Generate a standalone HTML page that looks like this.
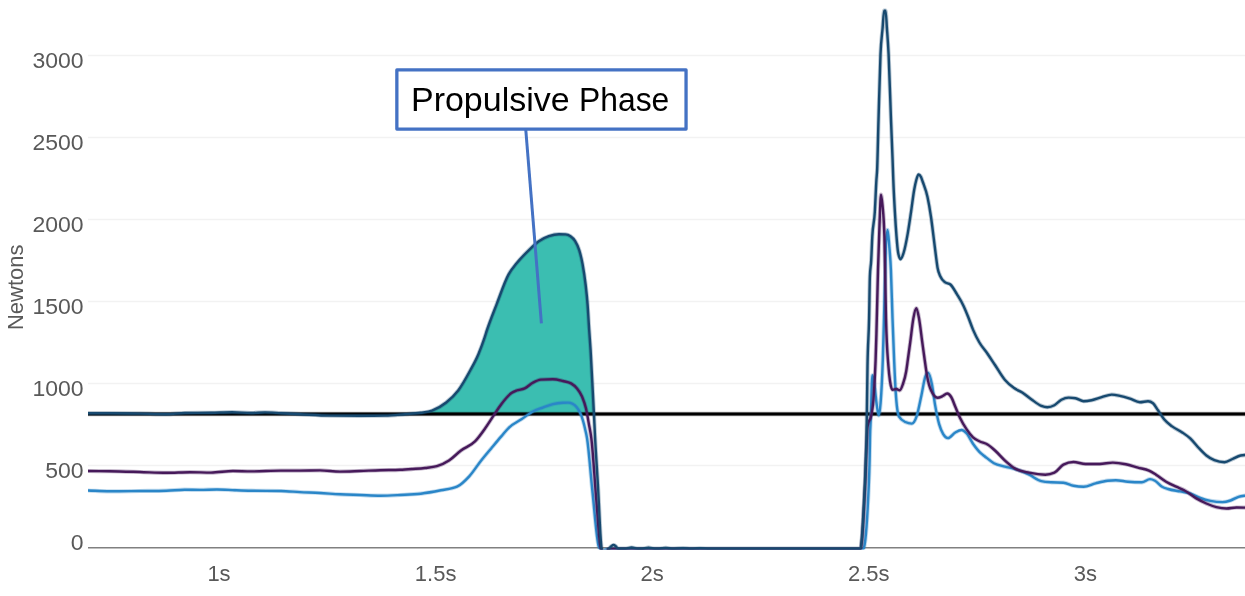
<!DOCTYPE html>
<html lang="en">
<head>
<meta charset="utf-8">
<title>Force-Time Curve: Propulsive Phase</title>
<style>
html,body{margin:0;padding:0;background:#fff;}
body{width:1245px;height:596px;overflow:hidden;}
svg{display:block;}
.ax text{font-family:"Liberation Sans",Arial,sans-serif;font-size:22px;fill:#595959;}
.ln{fill:none;stroke-width:2.4;stroke-linejoin:round;stroke-linecap:butt;}
.halo{fill:none;stroke-width:4.2;stroke-opacity:0.3;stroke-linejoin:round;}
.callout{font-family:"Liberation Sans",Arial,sans-serif;font-size:33px;fill:#000;}
</style>
</head>
<body>
<svg width="1245" height="596" viewBox="0 0 1245 596">
<rect width="1245" height="596" fill="#ffffff"/>
<g class="chart">
<g class="grid">
<line x1="88" x2="1245" y1="465.5" y2="465.5" stroke="#f2f2f2" stroke-width="1.5"/>
<line x1="88" x2="1245" y1="383.5" y2="383.5" stroke="#f2f2f2" stroke-width="1.5"/>
<line x1="88" x2="1245" y1="301.5" y2="301.5" stroke="#f2f2f2" stroke-width="1.5"/>
<line x1="88" x2="1245" y1="219.5" y2="219.5" stroke="#f2f2f2" stroke-width="1.5"/>
<line x1="88" x2="1245" y1="137.5" y2="137.5" stroke="#f2f2f2" stroke-width="1.5"/>
<line x1="88" x2="1245" y1="55.5" y2="55.5" stroke="#f2f2f2" stroke-width="1.5"/>
</g>
<line x1="88" x2="1245" y1="547.8" y2="547.8" stroke="#808080" stroke-width="1.6"/>
<g class="ax">
<text x="83.6" y="549.9" text-anchor="end" textLength="12.8" lengthAdjust="spacingAndGlyphs">0</text>
<text x="83.6" y="477.7" text-anchor="end" textLength="38.4" lengthAdjust="spacingAndGlyphs">500</text>
<text x="83.6" y="395.7" text-anchor="end" textLength="51.2" lengthAdjust="spacingAndGlyphs">1000</text>
<text x="83.6" y="313.7" text-anchor="end" textLength="51.2" lengthAdjust="spacingAndGlyphs">1500</text>
<text x="83.6" y="231.7" text-anchor="end" textLength="51.2" lengthAdjust="spacingAndGlyphs">2000</text>
<text x="83.6" y="149.7" text-anchor="end" textLength="51.2" lengthAdjust="spacingAndGlyphs">2500</text>
<text x="83.6" y="67.7" text-anchor="end" textLength="51.2" lengthAdjust="spacingAndGlyphs">3000</text>
<text x="219.0" y="581" text-anchor="middle">1s</text>
<text x="435.6" y="581" text-anchor="middle">1.5s</text>
<text x="652.2" y="581" text-anchor="middle">2s</text>
<text x="868.8" y="581" text-anchor="middle">2.5s</text>
<text x="1085.4" y="581" text-anchor="middle">3s</text>
<text transform="translate(23.3,287.3) rotate(-90)" text-anchor="middle" style="font-size:22px">Newtons</text>
</g>
<defs><clipPath id="plot"><rect x="88" y="0" width="1157" height="549.4"/></clipPath></defs>
<g clip-path="url(#plot)">
<path d="M420.8 412.8C424.53 412.07 428.27 411.95 432.0 410.6C436.73 408.89 441.47 406.30 446.2 402.5C450.20 399.29 454.20 395.83 458.2 390.5C462.23 385.12 466.27 377.80 470.3 370.3C473.00 365.28 475.70 360.65 478.4 354.2C480.40 349.43 482.40 344.07 484.4 338.1C485.27 335.51 486.13 332.62 487.0 330.0C490.17 320.44 493.33 312.82 496.5 304.6C500.53 294.13 504.57 281.78 508.6 274.4C511.27 269.52 513.93 266.67 516.6 263.3C520.63 258.21 524.67 254.25 528.7 250.3C532.07 247.00 535.43 243.55 538.8 241.2C542.13 238.87 545.47 237.37 548.8 236.2C552.17 235.02 555.53 234.20 558.9 234.2C561.10 234.20 563.30 234.27 565.5 234.4C567.17 234.50 568.83 235.02 570.5 236.2C572.00 237.26 573.50 238.36 575.0 240.8C576.43 243.14 577.87 245.48 579.3 250.3C580.40 254.00 581.50 258.20 582.6 264.3C583.60 269.85 584.60 275.78 585.6 284.5C586.27 290.32 586.93 295.74 587.6 304.6C588.13 311.69 588.67 321.94 589.2 330.0C589.67 337.05 590.13 342.50 590.6 350.2C591.13 359.00 591.67 370.26 592.2 380.4C592.77 391.18 593.33 402.13 593.9 413.0L593.9 414L420.8 414Z" fill="#33bbae" fill-opacity="0.96"/>
<line x1="88" x2="1245" y1="414" y2="414" stroke="#000" stroke-width="4.4" stroke-opacity="0.3"/>
<line x1="88" x2="1245" y1="414" y2="414" stroke="#000" stroke-width="2.8"/>
<path class="halo" stroke="#2a86c8" d="M88.0 490.5C95.33 490.77 102.67 491.30 110.0 491.3C120.00 491.30 130.00 491.11 140.0 491.0C148.83 490.91 157.67 490.90 166.5 490.7C172.57 490.56 178.63 489.70 184.7 489.7C189.80 489.70 194.90 489.90 200.0 489.9C205.67 489.90 211.33 489.50 217.0 489.5C223.00 489.50 229.00 489.99 235.0 490.2C240.33 490.39 245.67 490.59 251.0 490.7C261.00 490.90 271.00 490.80 281.0 491.0C287.33 491.13 293.67 491.77 300.0 492.1C306.67 492.44 313.33 492.63 320.0 493.0C326.67 493.37 333.33 493.97 340.0 494.3C346.67 494.63 353.33 494.77 360.0 495.0C366.83 495.24 373.67 495.70 380.5 495.7C387.00 495.70 393.50 495.32 400.0 495.0C406.93 494.66 413.87 494.51 420.8 493.7C427.50 492.92 434.20 491.64 440.9 490.3C446.27 489.23 451.63 489.10 457.0 486.7C461.00 484.91 465.00 480.91 469.0 476.6C473.07 472.21 477.13 465.62 481.2 460.5C484.53 456.30 487.87 452.40 491.2 448.4C494.57 444.36 497.93 440.30 501.3 436.4C503.97 433.31 506.63 429.83 509.3 427.3C513.33 423.48 517.37 421.98 521.4 419.3C525.43 416.62 529.47 413.26 533.5 411.2C536.60 409.62 539.70 408.74 542.8 407.6C546.17 406.36 549.53 404.92 552.9 404.1C556.23 403.29 559.57 402.83 562.9 402.7C564.60 402.63 566.30 402.60 568.0 402.6C569.50 402.60 571.00 403.00 572.5 403.8C573.83 404.51 575.17 405.36 576.5 407.0C577.67 408.43 578.83 410.06 580.0 412.6C581.00 414.77 582.00 417.18 583.0 420.6C583.83 423.45 584.67 426.90 585.5 430.7C586.00 432.98 586.50 435.02 587.0 438.0C588.77 448.52 590.53 473.53 592.3 490.0C594.47 510.20 596.63 540.57 598.8 546.7C599.30 548.11 599.80 548.29 600.3 548.9C601.20 550.00 602.10 551.00 603.0 551.0C603.83 551.00 604.67 549.92 605.5 549.6C606.33 549.28 607.17 549.10 608.0 549.1C638.67 549.10 669.33 549.10 700.0 549.1C733.33 549.10 766.67 549.10 800.0 549.1C820.83 549.10 841.67 549.10 862.5 549.1C862.87 549.10 863.23 548.87 863.6 548.4C864.17 547.68 864.73 544.80 865.3 540.0C866.23 532.09 867.17 519.60 868.1 500.0C868.47 492.30 868.83 485.78 869.2 474.0C869.37 468.64 869.53 464.50 869.7 456.0C869.80 450.90 869.90 442.97 870.0 438.0C870.23 426.40 870.47 426.04 870.7 420.0C871.27 405.33 871.83 375.30 872.4 375.3C873.10 375.30 873.80 380.20 874.5 385.0C875.17 389.58 875.83 398.08 876.5 403.0C877.23 408.41 877.97 415.30 878.7 415.3C879.33 415.30 879.97 410.94 880.6 403.0C881.33 393.81 882.07 380.85 882.8 360.0C883.37 343.89 883.93 320.53 884.5 300.0C885.00 281.88 885.50 253.46 886.0 244.4C886.53 234.73 887.07 229.90 887.6 229.9C888.13 229.90 888.67 238.60 889.2 245.0C889.77 251.80 890.33 257.15 890.9 270.0C891.43 282.10 891.97 303.36 892.5 318.3C893.07 334.17 893.63 349.11 894.2 362.0C894.70 373.37 895.20 384.64 895.7 392.2C896.77 408.33 897.83 414.53 898.9 416.4C901.03 420.13 903.17 420.95 905.3 422.0C907.47 423.07 909.63 423.60 911.8 423.6C913.40 423.60 915.00 421.10 916.6 416.4C918.20 411.70 919.80 402.69 921.4 395.4C922.77 389.18 924.13 379.34 925.5 376.1C926.40 373.97 927.30 372.90 928.2 372.9C929.43 372.90 930.67 378.13 931.9 384.2C932.97 389.45 934.03 398.99 935.1 405.1C936.47 412.93 937.83 419.55 939.2 424.4C940.53 429.14 941.87 431.88 943.2 434.1C944.80 436.77 946.40 438.10 948.0 438.1C950.43 438.10 952.87 433.88 955.3 432.5C957.43 431.29 959.57 430.00 961.7 430.0C963.30 430.00 964.90 431.58 966.5 433.3C968.67 435.63 970.83 440.61 973.0 443.7C975.67 447.50 978.33 450.97 981.0 453.4C982.10 454.40 983.20 455.14 984.3 456.0C987.50 458.49 990.70 461.46 993.9 463.2C997.60 465.21 1001.30 465.60 1005.0 466.6C1008.37 467.51 1011.73 467.97 1015.1 469.0C1019.80 470.44 1024.50 472.48 1029.2 474.7C1033.23 476.60 1037.27 480.14 1041.3 481.1C1044.67 481.90 1048.03 482.08 1051.4 482.3C1055.40 482.57 1059.40 482.43 1063.4 482.7C1066.77 482.92 1070.13 485.03 1073.5 485.7C1076.87 486.37 1080.23 486.70 1083.6 486.7C1087.60 486.70 1091.60 484.30 1095.6 483.3C1099.63 482.29 1103.67 481.10 1107.7 480.7C1110.40 480.43 1113.10 480.30 1115.8 480.3C1119.80 480.30 1123.80 481.37 1127.8 481.7C1132.50 482.09 1137.20 482.30 1141.9 482.3C1144.60 482.30 1147.30 479.10 1150.0 479.1C1151.67 479.10 1153.33 479.81 1155.0 480.7C1157.37 481.97 1159.73 485.29 1162.1 486.7C1164.10 487.89 1166.10 488.36 1168.1 489.0C1172.13 490.30 1176.17 490.60 1180.2 491.4C1183.53 492.06 1186.87 492.31 1190.2 493.4C1193.57 494.50 1196.93 496.75 1200.3 498.0C1203.67 499.25 1207.03 500.23 1210.4 500.9C1214.43 501.70 1218.47 502.10 1222.5 502.1C1225.17 502.10 1227.83 501.37 1230.5 500.5C1233.20 499.62 1235.90 497.65 1238.6 496.8C1241.40 495.92 1244.20 495.87 1247.0 495.4"/>
<path class="ln" stroke="#2a86c8" d="M88.0 490.5C95.33 490.77 102.67 491.30 110.0 491.3C120.00 491.30 130.00 491.11 140.0 491.0C148.83 490.91 157.67 490.90 166.5 490.7C172.57 490.56 178.63 489.70 184.7 489.7C189.80 489.70 194.90 489.90 200.0 489.9C205.67 489.90 211.33 489.50 217.0 489.5C223.00 489.50 229.00 489.99 235.0 490.2C240.33 490.39 245.67 490.59 251.0 490.7C261.00 490.90 271.00 490.80 281.0 491.0C287.33 491.13 293.67 491.77 300.0 492.1C306.67 492.44 313.33 492.63 320.0 493.0C326.67 493.37 333.33 493.97 340.0 494.3C346.67 494.63 353.33 494.77 360.0 495.0C366.83 495.24 373.67 495.70 380.5 495.7C387.00 495.70 393.50 495.32 400.0 495.0C406.93 494.66 413.87 494.51 420.8 493.7C427.50 492.92 434.20 491.64 440.9 490.3C446.27 489.23 451.63 489.10 457.0 486.7C461.00 484.91 465.00 480.91 469.0 476.6C473.07 472.21 477.13 465.62 481.2 460.5C484.53 456.30 487.87 452.40 491.2 448.4C494.57 444.36 497.93 440.30 501.3 436.4C503.97 433.31 506.63 429.83 509.3 427.3C513.33 423.48 517.37 421.98 521.4 419.3C525.43 416.62 529.47 413.26 533.5 411.2C536.60 409.62 539.70 408.74 542.8 407.6C546.17 406.36 549.53 404.92 552.9 404.1C556.23 403.29 559.57 402.83 562.9 402.7C564.60 402.63 566.30 402.60 568.0 402.6C569.50 402.60 571.00 403.00 572.5 403.8C573.83 404.51 575.17 405.36 576.5 407.0C577.67 408.43 578.83 410.06 580.0 412.6C581.00 414.77 582.00 417.18 583.0 420.6C583.83 423.45 584.67 426.90 585.5 430.7C586.00 432.98 586.50 435.02 587.0 438.0C588.77 448.52 590.53 473.53 592.3 490.0C594.47 510.20 596.63 540.57 598.8 546.7C599.30 548.11 599.80 548.29 600.3 548.9C601.20 550.00 602.10 551.00 603.0 551.0C603.83 551.00 604.67 549.92 605.5 549.6C606.33 549.28 607.17 549.10 608.0 549.1C638.67 549.10 669.33 549.10 700.0 549.1C733.33 549.10 766.67 549.10 800.0 549.1C820.83 549.10 841.67 549.10 862.5 549.1C862.87 549.10 863.23 548.87 863.6 548.4C864.17 547.68 864.73 544.80 865.3 540.0C866.23 532.09 867.17 519.60 868.1 500.0C868.47 492.30 868.83 485.78 869.2 474.0C869.37 468.64 869.53 464.50 869.7 456.0C869.80 450.90 869.90 442.97 870.0 438.0C870.23 426.40 870.47 426.04 870.7 420.0C871.27 405.33 871.83 375.30 872.4 375.3C873.10 375.30 873.80 380.20 874.5 385.0C875.17 389.58 875.83 398.08 876.5 403.0C877.23 408.41 877.97 415.30 878.7 415.3C879.33 415.30 879.97 410.94 880.6 403.0C881.33 393.81 882.07 380.85 882.8 360.0C883.37 343.89 883.93 320.53 884.5 300.0C885.00 281.88 885.50 253.46 886.0 244.4C886.53 234.73 887.07 229.90 887.6 229.9C888.13 229.90 888.67 238.60 889.2 245.0C889.77 251.80 890.33 257.15 890.9 270.0C891.43 282.10 891.97 303.36 892.5 318.3C893.07 334.17 893.63 349.11 894.2 362.0C894.70 373.37 895.20 384.64 895.7 392.2C896.77 408.33 897.83 414.53 898.9 416.4C901.03 420.13 903.17 420.95 905.3 422.0C907.47 423.07 909.63 423.60 911.8 423.6C913.40 423.60 915.00 421.10 916.6 416.4C918.20 411.70 919.80 402.69 921.4 395.4C922.77 389.18 924.13 379.34 925.5 376.1C926.40 373.97 927.30 372.90 928.2 372.9C929.43 372.90 930.67 378.13 931.9 384.2C932.97 389.45 934.03 398.99 935.1 405.1C936.47 412.93 937.83 419.55 939.2 424.4C940.53 429.14 941.87 431.88 943.2 434.1C944.80 436.77 946.40 438.10 948.0 438.1C950.43 438.10 952.87 433.88 955.3 432.5C957.43 431.29 959.57 430.00 961.7 430.0C963.30 430.00 964.90 431.58 966.5 433.3C968.67 435.63 970.83 440.61 973.0 443.7C975.67 447.50 978.33 450.97 981.0 453.4C982.10 454.40 983.20 455.14 984.3 456.0C987.50 458.49 990.70 461.46 993.9 463.2C997.60 465.21 1001.30 465.60 1005.0 466.6C1008.37 467.51 1011.73 467.97 1015.1 469.0C1019.80 470.44 1024.50 472.48 1029.2 474.7C1033.23 476.60 1037.27 480.14 1041.3 481.1C1044.67 481.90 1048.03 482.08 1051.4 482.3C1055.40 482.57 1059.40 482.43 1063.4 482.7C1066.77 482.92 1070.13 485.03 1073.5 485.7C1076.87 486.37 1080.23 486.70 1083.6 486.7C1087.60 486.70 1091.60 484.30 1095.6 483.3C1099.63 482.29 1103.67 481.10 1107.7 480.7C1110.40 480.43 1113.10 480.30 1115.8 480.3C1119.80 480.30 1123.80 481.37 1127.8 481.7C1132.50 482.09 1137.20 482.30 1141.9 482.3C1144.60 482.30 1147.30 479.10 1150.0 479.1C1151.67 479.10 1153.33 479.81 1155.0 480.7C1157.37 481.97 1159.73 485.29 1162.1 486.7C1164.10 487.89 1166.10 488.36 1168.1 489.0C1172.13 490.30 1176.17 490.60 1180.2 491.4C1183.53 492.06 1186.87 492.31 1190.2 493.4C1193.57 494.50 1196.93 496.75 1200.3 498.0C1203.67 499.25 1207.03 500.23 1210.4 500.9C1214.43 501.70 1218.47 502.10 1222.5 502.1C1225.17 502.10 1227.83 501.37 1230.5 500.5C1233.20 499.62 1235.90 497.65 1238.6 496.8C1241.40 495.92 1244.20 495.87 1247.0 495.4"/>
<path class="halo" stroke="#46195a" d="M88.0 471.0C95.33 471.07 102.67 471.08 110.0 471.2C120.00 471.37 130.00 471.71 140.0 472.0C148.83 472.25 157.67 472.80 166.5 472.8C174.33 472.80 182.17 472.20 190.0 472.2C197.00 472.20 204.00 472.60 211.0 472.6C218.33 472.60 225.67 471.00 233.0 471.0C239.00 471.00 245.00 471.40 251.0 471.4C261.00 471.40 271.00 470.60 281.0 470.6C287.33 470.60 293.67 470.60 300.0 470.6C306.67 470.60 313.33 470.40 320.0 470.4C326.67 470.40 333.33 471.60 340.0 471.6C346.67 471.60 353.33 471.23 360.0 471.0C366.83 470.76 373.67 470.40 380.5 470.2C387.00 470.01 393.50 470.07 400.0 469.8C404.23 469.63 408.47 469.31 412.7 469.0C416.80 468.70 420.90 468.48 425.0 468.0C428.97 467.54 432.93 467.40 436.9 466.2C440.93 464.98 444.97 463.13 449.0 460.5C453.00 457.89 457.00 453.49 461.0 450.5C465.67 447.01 470.33 446.15 475.0 441.4C478.40 437.94 481.80 433.10 485.2 428.3C487.87 424.53 490.53 420.19 493.2 416.2C495.90 412.16 498.60 407.74 501.3 404.2C504.67 399.79 508.03 395.47 511.4 393.1C513.13 391.88 514.87 391.20 516.6 390.5C519.30 389.40 522.00 389.70 524.7 388.4C527.37 387.12 530.03 384.26 532.7 382.8C535.40 381.32 538.10 379.78 540.8 379.6C544.83 379.33 548.87 379.20 552.9 379.2C556.23 379.20 559.57 380.19 562.9 381.0C565.60 381.66 568.30 381.80 571.0 383.4C573.00 384.59 575.00 385.88 577.0 388.4C578.67 390.50 580.33 392.50 582.0 396.5C583.33 399.70 584.67 402.78 586.0 408.6C587.00 412.96 588.00 419.10 589.0 424.7C589.77 428.99 590.53 431.97 591.3 438.0C592.97 451.11 594.63 480.14 596.3 500.0C597.60 515.49 598.90 537.19 600.2 545.0C600.47 546.60 600.73 548.35 601.0 548.9C601.83 550.63 602.67 551.50 603.5 551.5C604.50 551.50 605.50 551.50 606.5 551.5C607.17 551.50 607.83 549.00 608.5 549.0C639.00 549.00 669.50 549.00 700.0 549.0C733.33 549.00 766.67 549.00 800.0 549.0C819.93 549.00 839.87 549.00 859.8 549.0C860.13 549.00 860.47 548.83 860.8 548.5C861.20 548.10 861.60 544.11 862.0 540.0C862.80 531.78 863.60 516.00 864.4 500.0C864.80 492.00 865.20 484.89 865.6 474.0C865.80 468.56 866.00 461.60 866.2 456.0C866.43 449.46 866.67 443.22 866.9 438.0C867.07 434.27 867.23 429.67 867.4 428.0C867.77 424.33 868.13 424.00 868.5 422.5C869.23 419.50 869.97 420.55 870.7 417.5C871.60 413.75 872.50 411.64 873.4 400.0C874.13 390.52 874.87 380.76 875.6 360.0C875.87 352.45 876.13 343.67 876.4 334.4C876.93 315.87 877.47 288.65 878.0 270.0C878.50 252.52 879.00 237.57 879.5 225.0C880.00 212.43 880.50 194.60 881.0 194.6C881.50 194.60 882.00 199.42 882.5 205.0C883.13 212.07 883.77 215.47 884.4 236.4C884.67 245.21 884.93 262.35 885.2 276.0C885.47 289.65 885.73 307.70 886.0 318.3C886.80 350.10 887.60 355.14 888.4 366.0C888.93 373.24 889.47 377.25 890.0 381.0C890.83 386.87 891.67 389.80 892.5 389.8C893.83 389.80 895.17 389.00 896.5 389.0C897.57 389.00 898.63 390.30 899.7 390.3C900.77 390.30 901.83 387.29 902.9 384.2C904.00 381.02 905.10 377.94 906.2 371.3C906.73 368.08 907.27 363.82 907.8 360.0C908.60 354.28 909.40 348.43 910.2 342.5C911.27 334.60 912.33 324.06 913.4 318.3C914.37 313.08 915.33 308.30 916.3 308.3C917.20 308.30 918.10 313.50 919.0 318.3C920.10 324.17 921.20 334.46 922.3 342.5C923.10 348.35 923.90 354.40 924.7 360.0C925.50 365.60 926.30 371.66 927.1 376.1C928.43 383.50 929.77 387.65 931.1 390.6C933.27 395.40 935.43 397.80 937.6 397.8C939.20 397.80 940.80 396.92 942.4 396.2C944.00 395.48 945.60 393.50 947.2 393.5C948.53 393.50 949.87 394.85 951.2 397.0C952.57 399.20 953.93 403.47 955.3 406.7C956.90 410.48 958.50 414.65 960.1 418.0C962.23 422.47 964.37 426.00 966.5 429.2C968.67 432.45 970.83 435.28 973.0 437.3C975.13 439.29 977.27 440.18 979.4 441.3C982.10 442.71 984.80 442.87 987.5 444.5C990.00 446.01 992.50 448.27 995.0 450.5C998.33 453.47 1001.67 457.59 1005.0 460.6C1008.37 463.64 1011.73 466.64 1015.1 468.6C1019.80 471.33 1024.50 471.70 1029.2 472.7C1034.57 473.84 1039.93 474.70 1045.3 474.7C1048.33 474.70 1051.37 474.03 1054.4 472.7C1057.40 471.38 1060.40 466.14 1063.4 464.6C1066.77 462.87 1070.13 462.00 1073.5 462.0C1077.53 462.00 1081.57 464.00 1085.6 464.0C1090.30 464.00 1095.00 464.00 1099.7 464.0C1104.07 464.00 1108.43 462.60 1112.8 462.6C1117.13 462.60 1121.47 463.31 1125.8 464.2C1129.83 465.03 1133.87 466.49 1137.9 467.6C1141.60 468.62 1145.30 468.88 1149.0 470.6C1151.33 471.68 1153.67 473.23 1156.0 474.7C1159.37 476.82 1162.73 479.70 1166.1 481.7C1169.47 483.70 1172.83 485.14 1176.2 486.7C1178.87 487.93 1181.53 488.78 1184.2 490.2C1188.23 492.35 1192.27 496.05 1196.3 498.4C1199.67 500.36 1203.03 502.05 1206.4 503.5C1209.73 504.94 1213.07 506.27 1216.4 507.1C1219.77 507.94 1223.13 508.50 1226.5 508.5C1229.83 508.50 1233.17 507.50 1236.5 507.5C1240.00 507.50 1243.50 507.63 1247.0 507.7"/>
<path class="ln" stroke="#46195a" d="M88.0 471.0C95.33 471.07 102.67 471.08 110.0 471.2C120.00 471.37 130.00 471.71 140.0 472.0C148.83 472.25 157.67 472.80 166.5 472.8C174.33 472.80 182.17 472.20 190.0 472.2C197.00 472.20 204.00 472.60 211.0 472.6C218.33 472.60 225.67 471.00 233.0 471.0C239.00 471.00 245.00 471.40 251.0 471.4C261.00 471.40 271.00 470.60 281.0 470.6C287.33 470.60 293.67 470.60 300.0 470.6C306.67 470.60 313.33 470.40 320.0 470.4C326.67 470.40 333.33 471.60 340.0 471.6C346.67 471.60 353.33 471.23 360.0 471.0C366.83 470.76 373.67 470.40 380.5 470.2C387.00 470.01 393.50 470.07 400.0 469.8C404.23 469.63 408.47 469.31 412.7 469.0C416.80 468.70 420.90 468.48 425.0 468.0C428.97 467.54 432.93 467.40 436.9 466.2C440.93 464.98 444.97 463.13 449.0 460.5C453.00 457.89 457.00 453.49 461.0 450.5C465.67 447.01 470.33 446.15 475.0 441.4C478.40 437.94 481.80 433.10 485.2 428.3C487.87 424.53 490.53 420.19 493.2 416.2C495.90 412.16 498.60 407.74 501.3 404.2C504.67 399.79 508.03 395.47 511.4 393.1C513.13 391.88 514.87 391.20 516.6 390.5C519.30 389.40 522.00 389.70 524.7 388.4C527.37 387.12 530.03 384.26 532.7 382.8C535.40 381.32 538.10 379.78 540.8 379.6C544.83 379.33 548.87 379.20 552.9 379.2C556.23 379.20 559.57 380.19 562.9 381.0C565.60 381.66 568.30 381.80 571.0 383.4C573.00 384.59 575.00 385.88 577.0 388.4C578.67 390.50 580.33 392.50 582.0 396.5C583.33 399.70 584.67 402.78 586.0 408.6C587.00 412.96 588.00 419.10 589.0 424.7C589.77 428.99 590.53 431.97 591.3 438.0C592.97 451.11 594.63 480.14 596.3 500.0C597.60 515.49 598.90 537.19 600.2 545.0C600.47 546.60 600.73 548.35 601.0 548.9C601.83 550.63 602.67 551.50 603.5 551.5C604.50 551.50 605.50 551.50 606.5 551.5C607.17 551.50 607.83 549.00 608.5 549.0C639.00 549.00 669.50 549.00 700.0 549.0C733.33 549.00 766.67 549.00 800.0 549.0C819.93 549.00 839.87 549.00 859.8 549.0C860.13 549.00 860.47 548.83 860.8 548.5C861.20 548.10 861.60 544.11 862.0 540.0C862.80 531.78 863.60 516.00 864.4 500.0C864.80 492.00 865.20 484.89 865.6 474.0C865.80 468.56 866.00 461.60 866.2 456.0C866.43 449.46 866.67 443.22 866.9 438.0C867.07 434.27 867.23 429.67 867.4 428.0C867.77 424.33 868.13 424.00 868.5 422.5C869.23 419.50 869.97 420.55 870.7 417.5C871.60 413.75 872.50 411.64 873.4 400.0C874.13 390.52 874.87 380.76 875.6 360.0C875.87 352.45 876.13 343.67 876.4 334.4C876.93 315.87 877.47 288.65 878.0 270.0C878.50 252.52 879.00 237.57 879.5 225.0C880.00 212.43 880.50 194.60 881.0 194.6C881.50 194.60 882.00 199.42 882.5 205.0C883.13 212.07 883.77 215.47 884.4 236.4C884.67 245.21 884.93 262.35 885.2 276.0C885.47 289.65 885.73 307.70 886.0 318.3C886.80 350.10 887.60 355.14 888.4 366.0C888.93 373.24 889.47 377.25 890.0 381.0C890.83 386.87 891.67 389.80 892.5 389.8C893.83 389.80 895.17 389.00 896.5 389.0C897.57 389.00 898.63 390.30 899.7 390.3C900.77 390.30 901.83 387.29 902.9 384.2C904.00 381.02 905.10 377.94 906.2 371.3C906.73 368.08 907.27 363.82 907.8 360.0C908.60 354.28 909.40 348.43 910.2 342.5C911.27 334.60 912.33 324.06 913.4 318.3C914.37 313.08 915.33 308.30 916.3 308.3C917.20 308.30 918.10 313.50 919.0 318.3C920.10 324.17 921.20 334.46 922.3 342.5C923.10 348.35 923.90 354.40 924.7 360.0C925.50 365.60 926.30 371.66 927.1 376.1C928.43 383.50 929.77 387.65 931.1 390.6C933.27 395.40 935.43 397.80 937.6 397.8C939.20 397.80 940.80 396.92 942.4 396.2C944.00 395.48 945.60 393.50 947.2 393.5C948.53 393.50 949.87 394.85 951.2 397.0C952.57 399.20 953.93 403.47 955.3 406.7C956.90 410.48 958.50 414.65 960.1 418.0C962.23 422.47 964.37 426.00 966.5 429.2C968.67 432.45 970.83 435.28 973.0 437.3C975.13 439.29 977.27 440.18 979.4 441.3C982.10 442.71 984.80 442.87 987.5 444.5C990.00 446.01 992.50 448.27 995.0 450.5C998.33 453.47 1001.67 457.59 1005.0 460.6C1008.37 463.64 1011.73 466.64 1015.1 468.6C1019.80 471.33 1024.50 471.70 1029.2 472.7C1034.57 473.84 1039.93 474.70 1045.3 474.7C1048.33 474.70 1051.37 474.03 1054.4 472.7C1057.40 471.38 1060.40 466.14 1063.4 464.6C1066.77 462.87 1070.13 462.00 1073.5 462.0C1077.53 462.00 1081.57 464.00 1085.6 464.0C1090.30 464.00 1095.00 464.00 1099.7 464.0C1104.07 464.00 1108.43 462.60 1112.8 462.6C1117.13 462.60 1121.47 463.31 1125.8 464.2C1129.83 465.03 1133.87 466.49 1137.9 467.6C1141.60 468.62 1145.30 468.88 1149.0 470.6C1151.33 471.68 1153.67 473.23 1156.0 474.7C1159.37 476.82 1162.73 479.70 1166.1 481.7C1169.47 483.70 1172.83 485.14 1176.2 486.7C1178.87 487.93 1181.53 488.78 1184.2 490.2C1188.23 492.35 1192.27 496.05 1196.3 498.4C1199.67 500.36 1203.03 502.05 1206.4 503.5C1209.73 504.94 1213.07 506.27 1216.4 507.1C1219.77 507.94 1223.13 508.50 1226.5 508.5C1229.83 508.50 1233.17 507.50 1236.5 507.5C1240.00 507.50 1243.50 507.63 1247.0 507.7"/>
<path class="halo" stroke="#17496f" d="M88.0 413.3C95.33 413.30 102.67 413.30 110.0 413.3C120.00 413.30 130.00 413.43 140.0 413.6C148.67 413.75 157.33 414.20 166.0 414.2C172.33 414.20 178.67 413.10 185.0 413.0C193.67 412.87 202.33 412.93 211.0 412.8C218.00 412.69 225.00 412.20 232.0 412.2C238.33 412.20 244.67 413.00 251.0 413.0C255.67 413.00 260.33 412.40 265.0 412.4C270.33 412.40 275.67 412.93 281.0 413.2C287.33 413.52 293.67 413.88 300.0 414.2C310.00 414.70 320.00 415.47 330.0 415.6C340.00 415.73 350.00 415.80 360.0 415.8C368.33 415.80 376.67 415.73 385.0 415.6C391.67 415.49 398.33 414.74 405.0 414.2C410.27 413.78 415.53 413.60 420.8 412.8C424.53 412.23 428.27 411.95 432.0 410.6C436.73 408.89 441.47 406.30 446.2 402.5C450.20 399.29 454.20 395.83 458.2 390.5C462.23 385.12 466.27 377.80 470.3 370.3C473.00 365.28 475.70 360.65 478.4 354.2C480.40 349.43 482.40 344.07 484.4 338.1C485.27 335.51 486.13 332.62 487.0 330.0C490.17 320.44 493.33 312.82 496.5 304.6C500.53 294.13 504.57 281.78 508.6 274.4C511.27 269.52 513.93 266.67 516.6 263.3C520.63 258.21 524.67 254.25 528.7 250.3C532.07 247.00 535.43 243.55 538.8 241.2C542.13 238.87 545.47 237.37 548.8 236.2C552.17 235.02 555.53 234.20 558.9 234.2C561.10 234.20 563.30 234.27 565.5 234.4C567.17 234.50 568.83 235.02 570.5 236.2C572.00 237.26 573.50 238.36 575.0 240.8C576.43 243.14 577.87 245.48 579.3 250.3C580.40 254.00 581.50 258.20 582.6 264.3C583.60 269.85 584.60 275.78 585.6 284.5C586.27 290.32 586.93 295.74 587.6 304.6C588.13 311.69 588.67 321.94 589.2 330.0C589.67 337.05 590.13 342.50 590.6 350.2C591.13 359.00 591.67 370.26 592.2 380.4C592.77 391.18 593.33 401.54 593.9 413.0C594.27 420.42 594.63 428.71 595.0 436.0C596.07 457.20 597.13 470.61 598.2 490.0C599.07 505.75 599.93 528.95 600.8 540.0C601.07 543.40 601.33 547.79 601.6 548.6C602.23 550.53 602.87 551.50 603.5 551.5C604.50 551.50 605.50 551.50 606.5 551.5C607.33 551.50 608.17 549.52 609.0 548.6C609.77 547.76 610.53 546.80 611.3 546.2C612.03 545.62 612.77 545.00 613.5 545.0C614.23 545.00 614.97 545.64 615.7 546.2C616.47 546.79 617.23 548.38 618.0 548.5C618.83 548.63 619.67 548.70 620.5 548.7C622.00 548.70 623.50 548.70 625.0 548.7C627.20 548.70 629.40 547.50 631.6 547.5C633.73 547.50 635.87 548.70 638.0 548.7C639.33 548.70 640.67 548.70 642.0 548.7C644.17 548.70 646.33 547.70 648.5 547.7C650.67 547.70 652.83 548.70 655.0 548.7C656.33 548.70 657.67 548.70 659.0 548.7C661.27 548.70 663.53 547.90 665.8 547.9C667.87 547.90 669.93 548.70 672.0 548.7C675.67 548.70 679.33 548.20 683.0 548.2C685.67 548.20 688.33 548.70 691.0 548.7C694.00 548.70 697.00 548.30 700.0 548.3C703.33 548.30 706.67 548.70 710.0 548.7C740.00 548.70 770.00 548.70 800.0 548.7C819.83 548.70 839.67 548.70 859.5 548.7C859.83 548.70 860.17 548.57 860.5 548.3C860.90 547.98 861.30 544.07 861.7 540.0C862.50 531.87 863.30 516.00 864.1 500.0C864.50 492.00 864.90 484.89 865.3 474.0C865.50 468.56 865.70 462.00 865.9 456.0C866.10 450.00 866.30 447.15 866.5 438.0C866.83 422.75 867.17 384.59 867.5 366.0C868.03 336.25 868.57 342.40 869.1 318.3C869.37 306.25 869.63 282.36 869.9 276.0C870.33 265.67 870.77 268.01 871.2 260.5C871.57 254.14 871.93 243.06 872.3 236.4C873.13 221.26 873.97 225.57 874.8 212.2C875.33 203.64 875.87 188.35 876.4 180.0C876.63 176.34 876.87 175.33 877.1 170.4C877.57 160.53 878.03 136.19 878.5 120.0C879.17 96.86 879.83 69.59 880.5 54.3C881.20 38.25 881.90 36.39 882.6 28.0C883.10 22.01 883.60 10.60 884.1 10.6C884.60 10.60 885.10 10.60 885.6 10.6C886.03 10.60 886.47 21.81 886.9 28.0C887.47 36.10 888.03 42.74 888.6 54.3C889.40 70.63 890.20 99.15 891.0 120.0C891.53 133.90 892.07 145.77 892.6 160.3C892.83 166.66 893.07 174.00 893.3 180.0C893.83 193.71 894.37 202.80 894.9 212.2C895.43 221.60 895.97 229.68 896.5 236.4C897.03 243.12 897.57 249.52 898.1 252.5C898.90 256.97 899.70 259.20 900.5 259.2C901.57 259.20 902.63 255.97 903.7 252.5C905.07 248.06 906.43 240.95 907.8 233.1C908.87 226.97 909.93 219.43 911.0 212.2C912.07 204.97 913.13 195.65 914.2 189.7C914.90 185.80 915.60 182.51 916.3 180.0C917.03 177.37 917.77 174.50 918.5 174.5C919.33 174.50 920.17 175.33 921.0 177.0C921.60 178.20 922.20 180.26 922.8 182.0C924.37 186.53 925.93 189.73 927.5 197.0C928.67 202.41 929.83 208.94 931.0 217.0C931.83 222.76 932.67 229.81 933.5 236.4C934.30 242.72 935.10 249.64 935.9 255.7C936.47 259.99 937.03 264.80 937.6 268.0C938.53 273.27 939.47 274.31 940.4 276.5C941.87 279.95 943.33 280.84 944.8 282.1C946.67 283.70 948.53 282.90 950.4 284.5C952.57 286.36 954.73 290.69 956.9 294.2C959.03 297.66 961.17 300.93 963.3 305.4C964.90 308.75 966.50 312.71 968.1 316.7C969.73 320.77 971.37 325.74 973.0 329.6C975.13 334.65 977.27 338.80 979.4 342.5C982.10 347.19 984.80 349.79 987.5 353.7C990.00 357.32 992.50 361.24 995.0 365.0C998.33 370.01 1001.67 376.06 1005.0 380.0C1008.03 383.58 1011.07 385.96 1014.1 388.1C1016.80 390.01 1019.50 390.78 1022.2 392.5C1025.20 394.42 1028.20 397.10 1031.2 399.2C1034.57 401.56 1037.93 404.49 1041.3 405.8C1043.30 406.58 1045.30 407.20 1047.3 407.2C1049.67 407.20 1052.03 406.45 1054.4 405.2C1056.73 403.97 1059.07 401.07 1061.4 399.8C1063.77 398.52 1066.13 397.60 1068.5 397.6C1070.83 397.60 1073.17 397.80 1075.5 398.2C1078.20 398.66 1080.90 401.20 1083.6 401.2C1086.27 401.20 1088.93 400.74 1091.6 400.2C1094.97 399.52 1098.33 398.14 1101.7 397.2C1105.03 396.27 1108.37 394.60 1111.7 394.6C1114.40 394.60 1117.10 395.24 1119.8 395.8C1123.17 396.49 1126.53 397.53 1129.9 398.6C1133.23 399.66 1136.57 402.20 1139.9 402.2C1142.60 402.20 1145.30 401.20 1148.0 401.2C1149.67 401.20 1151.33 401.87 1153.0 403.2C1154.67 404.53 1156.33 407.89 1158.0 410.3C1160.03 413.24 1162.07 416.82 1164.1 419.3C1166.77 422.56 1169.43 424.38 1172.1 426.4C1175.47 428.95 1178.83 430.11 1182.2 432.4C1184.87 434.22 1187.53 435.91 1190.2 438.4C1192.90 440.93 1195.60 444.65 1198.3 447.5C1201.00 450.35 1203.70 453.38 1206.4 455.5C1209.07 457.60 1211.73 459.14 1214.4 460.2C1217.77 461.53 1221.13 462.20 1224.5 462.2C1227.17 462.20 1229.83 460.11 1232.5 459.0C1235.20 457.88 1237.90 456.01 1240.6 455.5C1242.73 455.10 1244.87 455.10 1247.0 454.9"/>
<path class="ln" stroke="#17496f" d="M88.0 413.3C95.33 413.30 102.67 413.30 110.0 413.3C120.00 413.30 130.00 413.43 140.0 413.6C148.67 413.75 157.33 414.20 166.0 414.2C172.33 414.20 178.67 413.10 185.0 413.0C193.67 412.87 202.33 412.93 211.0 412.8C218.00 412.69 225.00 412.20 232.0 412.2C238.33 412.20 244.67 413.00 251.0 413.0C255.67 413.00 260.33 412.40 265.0 412.4C270.33 412.40 275.67 412.93 281.0 413.2C287.33 413.52 293.67 413.88 300.0 414.2C310.00 414.70 320.00 415.47 330.0 415.6C340.00 415.73 350.00 415.80 360.0 415.8C368.33 415.80 376.67 415.73 385.0 415.6C391.67 415.49 398.33 414.74 405.0 414.2C410.27 413.78 415.53 413.60 420.8 412.8C424.53 412.23 428.27 411.95 432.0 410.6C436.73 408.89 441.47 406.30 446.2 402.5C450.20 399.29 454.20 395.83 458.2 390.5C462.23 385.12 466.27 377.80 470.3 370.3C473.00 365.28 475.70 360.65 478.4 354.2C480.40 349.43 482.40 344.07 484.4 338.1C485.27 335.51 486.13 332.62 487.0 330.0C490.17 320.44 493.33 312.82 496.5 304.6C500.53 294.13 504.57 281.78 508.6 274.4C511.27 269.52 513.93 266.67 516.6 263.3C520.63 258.21 524.67 254.25 528.7 250.3C532.07 247.00 535.43 243.55 538.8 241.2C542.13 238.87 545.47 237.37 548.8 236.2C552.17 235.02 555.53 234.20 558.9 234.2C561.10 234.20 563.30 234.27 565.5 234.4C567.17 234.50 568.83 235.02 570.5 236.2C572.00 237.26 573.50 238.36 575.0 240.8C576.43 243.14 577.87 245.48 579.3 250.3C580.40 254.00 581.50 258.20 582.6 264.3C583.60 269.85 584.60 275.78 585.6 284.5C586.27 290.32 586.93 295.74 587.6 304.6C588.13 311.69 588.67 321.94 589.2 330.0C589.67 337.05 590.13 342.50 590.6 350.2C591.13 359.00 591.67 370.26 592.2 380.4C592.77 391.18 593.33 401.54 593.9 413.0C594.27 420.42 594.63 428.71 595.0 436.0C596.07 457.20 597.13 470.61 598.2 490.0C599.07 505.75 599.93 528.95 600.8 540.0C601.07 543.40 601.33 547.79 601.6 548.6C602.23 550.53 602.87 551.50 603.5 551.5C604.50 551.50 605.50 551.50 606.5 551.5C607.33 551.50 608.17 549.52 609.0 548.6C609.77 547.76 610.53 546.80 611.3 546.2C612.03 545.62 612.77 545.00 613.5 545.0C614.23 545.00 614.97 545.64 615.7 546.2C616.47 546.79 617.23 548.38 618.0 548.5C618.83 548.63 619.67 548.70 620.5 548.7C622.00 548.70 623.50 548.70 625.0 548.7C627.20 548.70 629.40 547.50 631.6 547.5C633.73 547.50 635.87 548.70 638.0 548.7C639.33 548.70 640.67 548.70 642.0 548.7C644.17 548.70 646.33 547.70 648.5 547.7C650.67 547.70 652.83 548.70 655.0 548.7C656.33 548.70 657.67 548.70 659.0 548.7C661.27 548.70 663.53 547.90 665.8 547.9C667.87 547.90 669.93 548.70 672.0 548.7C675.67 548.70 679.33 548.20 683.0 548.2C685.67 548.20 688.33 548.70 691.0 548.7C694.00 548.70 697.00 548.30 700.0 548.3C703.33 548.30 706.67 548.70 710.0 548.7C740.00 548.70 770.00 548.70 800.0 548.7C819.83 548.70 839.67 548.70 859.5 548.7C859.83 548.70 860.17 548.57 860.5 548.3C860.90 547.98 861.30 544.07 861.7 540.0C862.50 531.87 863.30 516.00 864.1 500.0C864.50 492.00 864.90 484.89 865.3 474.0C865.50 468.56 865.70 462.00 865.9 456.0C866.10 450.00 866.30 447.15 866.5 438.0C866.83 422.75 867.17 384.59 867.5 366.0C868.03 336.25 868.57 342.40 869.1 318.3C869.37 306.25 869.63 282.36 869.9 276.0C870.33 265.67 870.77 268.01 871.2 260.5C871.57 254.14 871.93 243.06 872.3 236.4C873.13 221.26 873.97 225.57 874.8 212.2C875.33 203.64 875.87 188.35 876.4 180.0C876.63 176.34 876.87 175.33 877.1 170.4C877.57 160.53 878.03 136.19 878.5 120.0C879.17 96.86 879.83 69.59 880.5 54.3C881.20 38.25 881.90 36.39 882.6 28.0C883.10 22.01 883.60 10.60 884.1 10.6C884.60 10.60 885.10 10.60 885.6 10.6C886.03 10.60 886.47 21.81 886.9 28.0C887.47 36.10 888.03 42.74 888.6 54.3C889.40 70.63 890.20 99.15 891.0 120.0C891.53 133.90 892.07 145.77 892.6 160.3C892.83 166.66 893.07 174.00 893.3 180.0C893.83 193.71 894.37 202.80 894.9 212.2C895.43 221.60 895.97 229.68 896.5 236.4C897.03 243.12 897.57 249.52 898.1 252.5C898.90 256.97 899.70 259.20 900.5 259.2C901.57 259.20 902.63 255.97 903.7 252.5C905.07 248.06 906.43 240.95 907.8 233.1C908.87 226.97 909.93 219.43 911.0 212.2C912.07 204.97 913.13 195.65 914.2 189.7C914.90 185.80 915.60 182.51 916.3 180.0C917.03 177.37 917.77 174.50 918.5 174.5C919.33 174.50 920.17 175.33 921.0 177.0C921.60 178.20 922.20 180.26 922.8 182.0C924.37 186.53 925.93 189.73 927.5 197.0C928.67 202.41 929.83 208.94 931.0 217.0C931.83 222.76 932.67 229.81 933.5 236.4C934.30 242.72 935.10 249.64 935.9 255.7C936.47 259.99 937.03 264.80 937.6 268.0C938.53 273.27 939.47 274.31 940.4 276.5C941.87 279.95 943.33 280.84 944.8 282.1C946.67 283.70 948.53 282.90 950.4 284.5C952.57 286.36 954.73 290.69 956.9 294.2C959.03 297.66 961.17 300.93 963.3 305.4C964.90 308.75 966.50 312.71 968.1 316.7C969.73 320.77 971.37 325.74 973.0 329.6C975.13 334.65 977.27 338.80 979.4 342.5C982.10 347.19 984.80 349.79 987.5 353.7C990.00 357.32 992.50 361.24 995.0 365.0C998.33 370.01 1001.67 376.06 1005.0 380.0C1008.03 383.58 1011.07 385.96 1014.1 388.1C1016.80 390.01 1019.50 390.78 1022.2 392.5C1025.20 394.42 1028.20 397.10 1031.2 399.2C1034.57 401.56 1037.93 404.49 1041.3 405.8C1043.30 406.58 1045.30 407.20 1047.3 407.2C1049.67 407.20 1052.03 406.45 1054.4 405.2C1056.73 403.97 1059.07 401.07 1061.4 399.8C1063.77 398.52 1066.13 397.60 1068.5 397.6C1070.83 397.60 1073.17 397.80 1075.5 398.2C1078.20 398.66 1080.90 401.20 1083.6 401.2C1086.27 401.20 1088.93 400.74 1091.6 400.2C1094.97 399.52 1098.33 398.14 1101.7 397.2C1105.03 396.27 1108.37 394.60 1111.7 394.6C1114.40 394.60 1117.10 395.24 1119.8 395.8C1123.17 396.49 1126.53 397.53 1129.9 398.6C1133.23 399.66 1136.57 402.20 1139.9 402.2C1142.60 402.20 1145.30 401.20 1148.0 401.2C1149.67 401.20 1151.33 401.87 1153.0 403.2C1154.67 404.53 1156.33 407.89 1158.0 410.3C1160.03 413.24 1162.07 416.82 1164.1 419.3C1166.77 422.56 1169.43 424.38 1172.1 426.4C1175.47 428.95 1178.83 430.11 1182.2 432.4C1184.87 434.22 1187.53 435.91 1190.2 438.4C1192.90 440.93 1195.60 444.65 1198.3 447.5C1201.00 450.35 1203.70 453.38 1206.4 455.5C1209.07 457.60 1211.73 459.14 1214.4 460.2C1217.77 461.53 1221.13 462.20 1224.5 462.2C1227.17 462.20 1229.83 460.11 1232.5 459.0C1235.20 457.88 1237.90 456.01 1240.6 455.5C1242.73 455.10 1244.87 455.10 1247.0 454.9"/>
</g>
</g>
<line x1="525.8" y1="130" x2="541.4" y2="323.3" stroke="#4472c4" stroke-width="3"/>
<rect x="396.85" y="69.95" width="289.2" height="59.1" fill="#ffffff" stroke="#4472c4" stroke-width="3.3" stroke-linejoin="round"/>
<text class="callout" y="110.9"><tspan x="411" textLength="158.6" lengthAdjust="spacingAndGlyphs">Propulsive</tspan> <tspan x="579" textLength="90.3" lengthAdjust="spacingAndGlyphs">Phase</tspan></text>
</svg>
</body>
</html>
